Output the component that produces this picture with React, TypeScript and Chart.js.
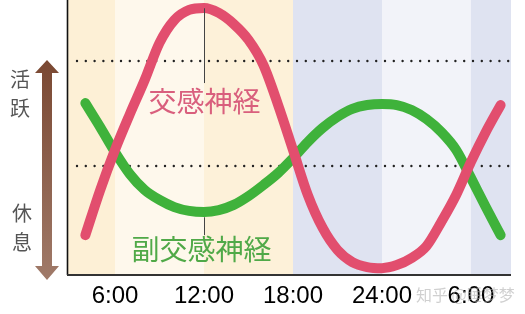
import React, { useEffect, useRef } from "react";
import { Chart, registerables } from "chart.js";

Chart.register(...registerables);

// hours of the day (30 = 6:00 next morning)
const hours = [4, 5, 6, 7, 8, 9, 10, 11, 12, 13, 14, 15, 16, 17, 18, 19, 20, 21, 22, 23, 24, 25, 26, 27, 28, 29, 30, 31, 32];
// activity level (0 = rest, 100 = active)
const sympathetic = [14.5, 30.9, 45.5, 58.5, 70.9, 84.4, 92.7, 96.4, 97.1, 95.3, 91.3, 85.5, 76.4, 61.8, 45.5, 29.1, 17.1, 9.1, 4.7, 2.9, 2.5, 3.6, 6.2, 10.5, 19.3, 29.1, 41.1, 52.0, 61.8];
const parasympathetic = [62.5, 53.8, 44.7, 36.7, 30.9, 27.3, 24.7, 23.3, 22.9, 23.6, 25.5, 28.7, 32.7, 37.1, 42.5, 48.4, 53.5, 57.5, 60.4, 61.8, 62.2, 61.8, 60.0, 56.7, 52.0, 45.5, 35.3, 24.7, 14.5];
const seriesNames = ["交感神経", "副交感神経"];

const tickHours = [6, 12, 18, 24, 30];
const tickLabels = ["6:00", "12:00", "18:00", "24:00", "6:00"];
const xRange = [2.83, 32.7];
const bandEdges = [2.83, 6, 12, 18, 24, 30, 32.7];
const bandColors = ["#fdf0d6", "#fef8ec", "#fdf1d9", "#dfe3f1", "#f2f3f9", "#dfe3f1"];
const dottedLevels = [77.8, 39.6];
const activeChars = ["活", "跃"];
const restChars = ["休", "息"];
const watermark = "知乎 @睡梦梦";

const RED = "#e24e6e";
const GREEN = "#3fb23b";

const decor = {
  id: "decor",
  beforeDraw(chart: any) {
    const { ctx, chartArea: a, scales } = chart;
    const x = scales.x;
    const y = scales.y;
    ctx.save();
    ctx.fillStyle = "#ffffff";
    ctx.fillRect(0, 0, chart.width, chart.height);
    for (let i = 0; i < bandColors.length; i++) {
      const x0 = x.getPixelForValue(bandEdges[i]);
      const x1 = x.getPixelForValue(bandEdges[i + 1]);
      ctx.fillStyle = bandColors[i];
      ctx.fillRect(x0, a.top, x1 - x0, a.bottom - a.top);
    }
    // dotted reference lines
    ctx.strokeStyle = "#222";
    ctx.lineWidth = 2.4;
    ctx.lineCap = "round";
    ctx.setLineDash([0, 8.8]);
    for (const lv of dottedLevels) {
      const py = Math.round(y.getPixelForValue(lv));
      ctx.beginPath();
      ctx.moveTo(a.left + 9, py);
      ctx.lineTo(a.right - 2, py);
      ctx.stroke();
    }
    ctx.setLineDash([]);

    // brown double arrow
    const ax = 47;
    const grad = ctx.createLinearGradient(0, 60, 0, 280);
    grad.addColorStop(0, "#7a4832");
    grad.addColorStop(1, "#a07a69");
    ctx.fillStyle = grad;
    ctx.beginPath();
    ctx.moveTo(ax, 60);
    ctx.lineTo(ax + 12, 73);
    ctx.lineTo(ax + 5, 73);
    ctx.lineTo(ax + 5, 266);
    ctx.lineTo(ax + 12, 266);
    ctx.lineTo(ax, 280);
    ctx.lineTo(ax - 12, 266);
    ctx.lineTo(ax - 5, 266);
    ctx.lineTo(ax - 5, 73);
    ctx.lineTo(ax - 12, 73);
    ctx.closePath();
    ctx.fill();

    // side labels
    ctx.fillStyle = "#555";
    ctx.font = "20px 'Noto Sans CJK SC'";
    ctx.textAlign = "center";
    ctx.textBaseline = "middle";
    ctx.fillText(activeChars[0], 20, 79);
    ctx.fillText(activeChars[1], 20, 108);
    ctx.fillText(restChars[0], 22, 213);
    ctx.fillText(restChars[1], 22, 242);
    ctx.restore();
  },
  afterDatasetsDraw(chart: any) {
    const { ctx, chartArea: a, scales } = chart;
    const x = scales.x;
    const y = scales.y;
    ctx.save();
    const cx = Math.round(x.getPixelForValue(12)) + 0.5;
    // connectors
    ctx.strokeStyle = "#444";
    ctx.lineWidth = 1;
    ctx.beginPath();
    ctx.moveTo(cx, y.getPixelForValue(97));
    ctx.lineTo(cx, y.getPixelForValue(69.8));
    ctx.moveTo(cx, y.getPixelForValue(21));
    ctx.lineTo(cx, y.getPixelForValue(14.5));
    ctx.stroke();
    // series labels
    ctx.textAlign = "center";
    ctx.textBaseline = "middle";
    ctx.font = "28px 'Noto Sans CJK JP'";
    ctx.fillStyle = "#d95f7d";
    ctx.fillText(seriesNames[0], cx, y.getPixelForValue(63.3));
    ctx.fillStyle = "#50a948";
    ctx.fillText(seriesNames[1], cx - 3, y.getPixelForValue(9.5));
    // axes
    ctx.strokeStyle = "#111";
    ctx.lineWidth = 1.6;
    ctx.beginPath();
    ctx.moveTo(a.left - 0.5, 0);
    ctx.lineTo(a.left - 0.5, a.bottom);
    ctx.stroke();
    ctx.strokeStyle = "#333";
    ctx.lineWidth = 2.2;
    ctx.beginPath();
    ctx.moveTo(a.left - 1, a.bottom);
    ctx.lineTo(a.right, a.bottom);
    ctx.stroke();
    // watermark
    ctx.font = "16px 'Noto Sans CJK SC'";
    ctx.fillStyle = "rgba(170,170,170,0.55)";
    ctx.textAlign = "left";
    ctx.fillText(watermark, 416, 295);
    ctx.restore();
  },
};

export default function App() {
  const ref = useRef<HTMLCanvasElement | null>(null);
  useEffect(() => {
    if (!ref.current) return;
    const chart = new Chart(ref.current, {
      type: "line",
      data: {
        labels: hours,
        datasets: [
          {
            label: seriesNames[0],
            data: hours.map((h, i) => ({ x: h, y: sympathetic[i] })),
            borderColor: RED,
            borderWidth: 10,
            borderCapStyle: "round",
            borderJoinStyle: "round",
            pointRadius: 0,
            cubicInterpolationMode: "monotone",
            fill: false,
            clip: false,
          },
          {
            label: seriesNames[1],
            data: hours.map((h, i) => ({ x: h, y: parasympathetic[i] })),
            borderColor: GREEN,
            borderWidth: 10,
            borderCapStyle: "round",
            borderJoinStyle: "round",
            pointRadius: 0,
            cubicInterpolationMode: "monotone",
            fill: false,
            clip: false,
          },
        ],
      },
      options: {
        responsive: false,
        animation: false,
        events: [],
        layout: { padding: { left: 68, right: 14, top: 0, bottom: 0 } },
        plugins: { legend: { display: false }, tooltip: { enabled: false } },
        scales: {
          x: {
            type: "linear",
            min: xRange[0],
            max: xRange[1],
            grid: { display: false, drawTicks: false },
            border: { display: false },
            afterBuildTicks: (scale: any) => {
              scale.ticks = tickHours.map((v) => ({ value: v }));
            },
            afterFit: (scale: any) => {
              scale.height = 39;
            },
            ticks: {
              autoSkip: false,
              maxRotation: 0,
              padding: 7,
              color: "#000",
              font: { family: "'Liberation Sans', Arial, sans-serif", size: 24 },
              callback: (_v: any, i: number) => tickLabels[i],
            },
          },
          y: {
            display: false,
            min: 0,
            max: 100,
          },
        },
      },
      plugins: [decor],
    });
    return () => chart.destroy();
  }, []);
  return (
    <div style={{ position: "absolute", left: 0, top: 0, width: 525, height: 314 }}>
      <canvas ref={ref} width={525} height={314} style={{ width: 525, height: 314, display: "block" }} />
    </div>
  );
}
